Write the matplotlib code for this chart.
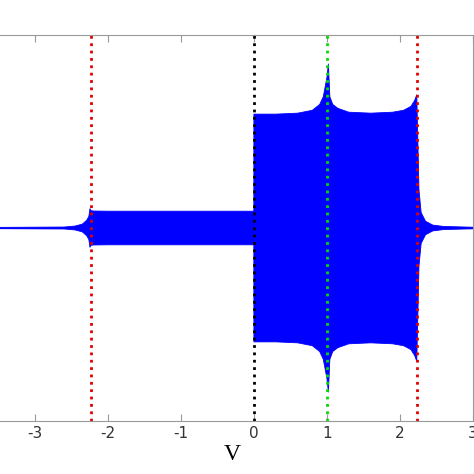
import matplotlib
matplotlib.use("Agg")
import matplotlib.pyplot as plt

# envelope of the dense oscillation (x, half-amplitude)
env_x = [-3.6, -2.6, -2.45, -2.35, -2.29, -2.26, -2.245, -2.23, -2.2, -2.0, -1.0, -0.001,
         0.0, 0.3, 0.6, 0.8, 0.9, 0.95, 0.98, 1.0, 1.02, 1.04, 1.08, 1.15, 1.3,
         1.6, 1.9, 2.05, 2.15, 2.2, 2.23, 2.245, 2.26, 2.29, 2.35, 2.45, 2.6, 3.0]
env_y = [0.003, 0.005, 0.01, 0.02, 0.04, 0.06, 0.1, 0.09, 0.088, 0.087, 0.087, 0.087,
         0.59, 0.59, 0.595, 0.61, 0.64, 0.68, 0.74, 0.78, 0.85, 0.68, 0.64, 0.62, 0.6,
         0.595, 0.6, 0.61, 0.63, 0.66, 0.69, 0.45, 0.2, 0.08, 0.035, 0.015, 0.008, 0.004]
red_lines = [-2.236, 2.236]
black_line = 0.0
green_line = 1.0
xticks = [-3, -2, -1, 0, 1, 2, 3]

fig = plt.figure(figsize=(4.74, 4.74), dpi=100)
ax = fig.add_axes([-9 / 474, 53 / 474, 482 / 474, 386 / 474])

ax.fill_between(env_x, [-v for v in env_y], env_y, color="#0000ff", lw=0.6,
                edgecolor="#0000ff")
ax.plot(env_x, [0] * len(env_x), color="#0000ff", lw=0.8)
for xv in red_lines:
    ax.axvline(xv, color="#e00000", ls=":", lw=2)
ax.axvline(black_line, color="black", ls=":", lw=2)
ax.axvline(green_line, color="#00dd00", ls=":", lw=2)

ax.set_xlim(-3.6, 3.0)
ax.set_ylim(-1, 1)
ax.set_yticks([])
ax.set_xticks(xticks)
ax.set_xticklabels([str(t) for t in xticks], fontsize=11, color="#333333")
ax.tick_params(axis="x", direction="in", top=True, length=5, color="#999999")
for s in ax.spines.values():
    s.set_color("#999999")
ax.set_xlabel("V", fontsize=17, family="Liberation Serif", labelpad=2)

fig.savefig("out.png", dpi=100)
